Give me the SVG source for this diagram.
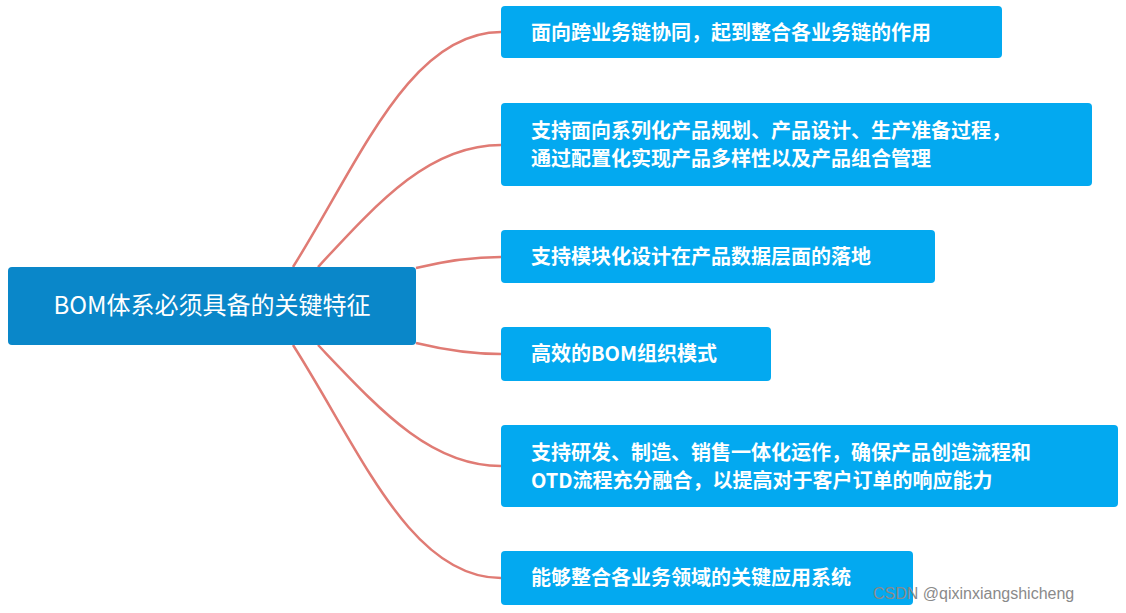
<svg xmlns="http://www.w3.org/2000/svg" width="1126" height="613" viewBox="0 0 1126 613">
<style>
.c{fill:none;stroke:#e07b74;stroke-width:2.5}
.b{fill:#03a9f0}
.t{font-family:"Noto Sans CJK SC","Liberation Sans",sans-serif;font-size:20px;font-weight:bold;fill:#fff}
</style>
<rect width="1126" height="613" fill="#fff"/>
<g id="connectors">
<path class="c" d="M293,267 C360,160 410,32 501,32"/>
<path class="c" d="M318,267 C380,200 430,145 501,145"/>
<path class="c" d="M416,268 C445,261 470,257 501,257"/>
<path class="c" d="M416,343 C445,350 470,354 501,354"/>
<path class="c" d="M318,345 C380,410 430,466 501,466"/>
<path class="c" d="M293,345 C360,450 410,578 501,578"/>
</g>
<g id="root"><rect x="8" y="267" width="408" height="78" rx="4" fill="#0a87c9"/>
<text x="212" y="314" text-anchor="middle" font-family="'Noto Sans CJK SC','Liberation Sans',sans-serif" font-size="24" fill="#fff">BOM体系必须具备的关键特征</text></g>
<g id="n1"><rect class="b" x="501" y="6" width="501" height="52" rx="4"/><text class="t" x="531" y="40">面向跨业务链协同，起到整合各业务链的作用</text></g>
<g id="n2"><rect class="b" x="501" y="103" width="591" height="83" rx="4"/><text class="t" x="531" y="138">支持面向系列化产品规划、产品设计、生产准备过程，</text><text class="t" x="531" y="166">通过配置化实现产品多样性以及产品组合管理</text></g>
<g id="n3"><rect class="b" x="501" y="230" width="434" height="53" rx="4"/><text class="t" x="531" y="264">支持模块化设计在产品数据层面的落地</text></g>
<g id="n4"><rect class="b" x="501" y="327" width="270" height="54" rx="4"/><text class="t" x="531" y="361">高效的BOM组织模式</text></g>
<g id="n5"><rect class="b" x="501" y="425" width="617" height="82" rx="4"/><text class="t" x="531" y="460">支持研发、制造、销售一体化运作，确保产品创造流程和</text><text class="t" x="531" y="488">OTD流程充分融合，以提高对于客户订单的响应能力</text></g>
<g id="n6"><rect class="b" x="501" y="551" width="412" height="54" rx="4"/><text class="t" x="531" y="585">能够整合各业务领域的关键应用系统</text></g>
<text x="873" y="599" font-family="'Liberation Sans',sans-serif" font-size="16" fill="#8a8a8a">CSDN @qixinxiangshicheng</text>
</svg>
